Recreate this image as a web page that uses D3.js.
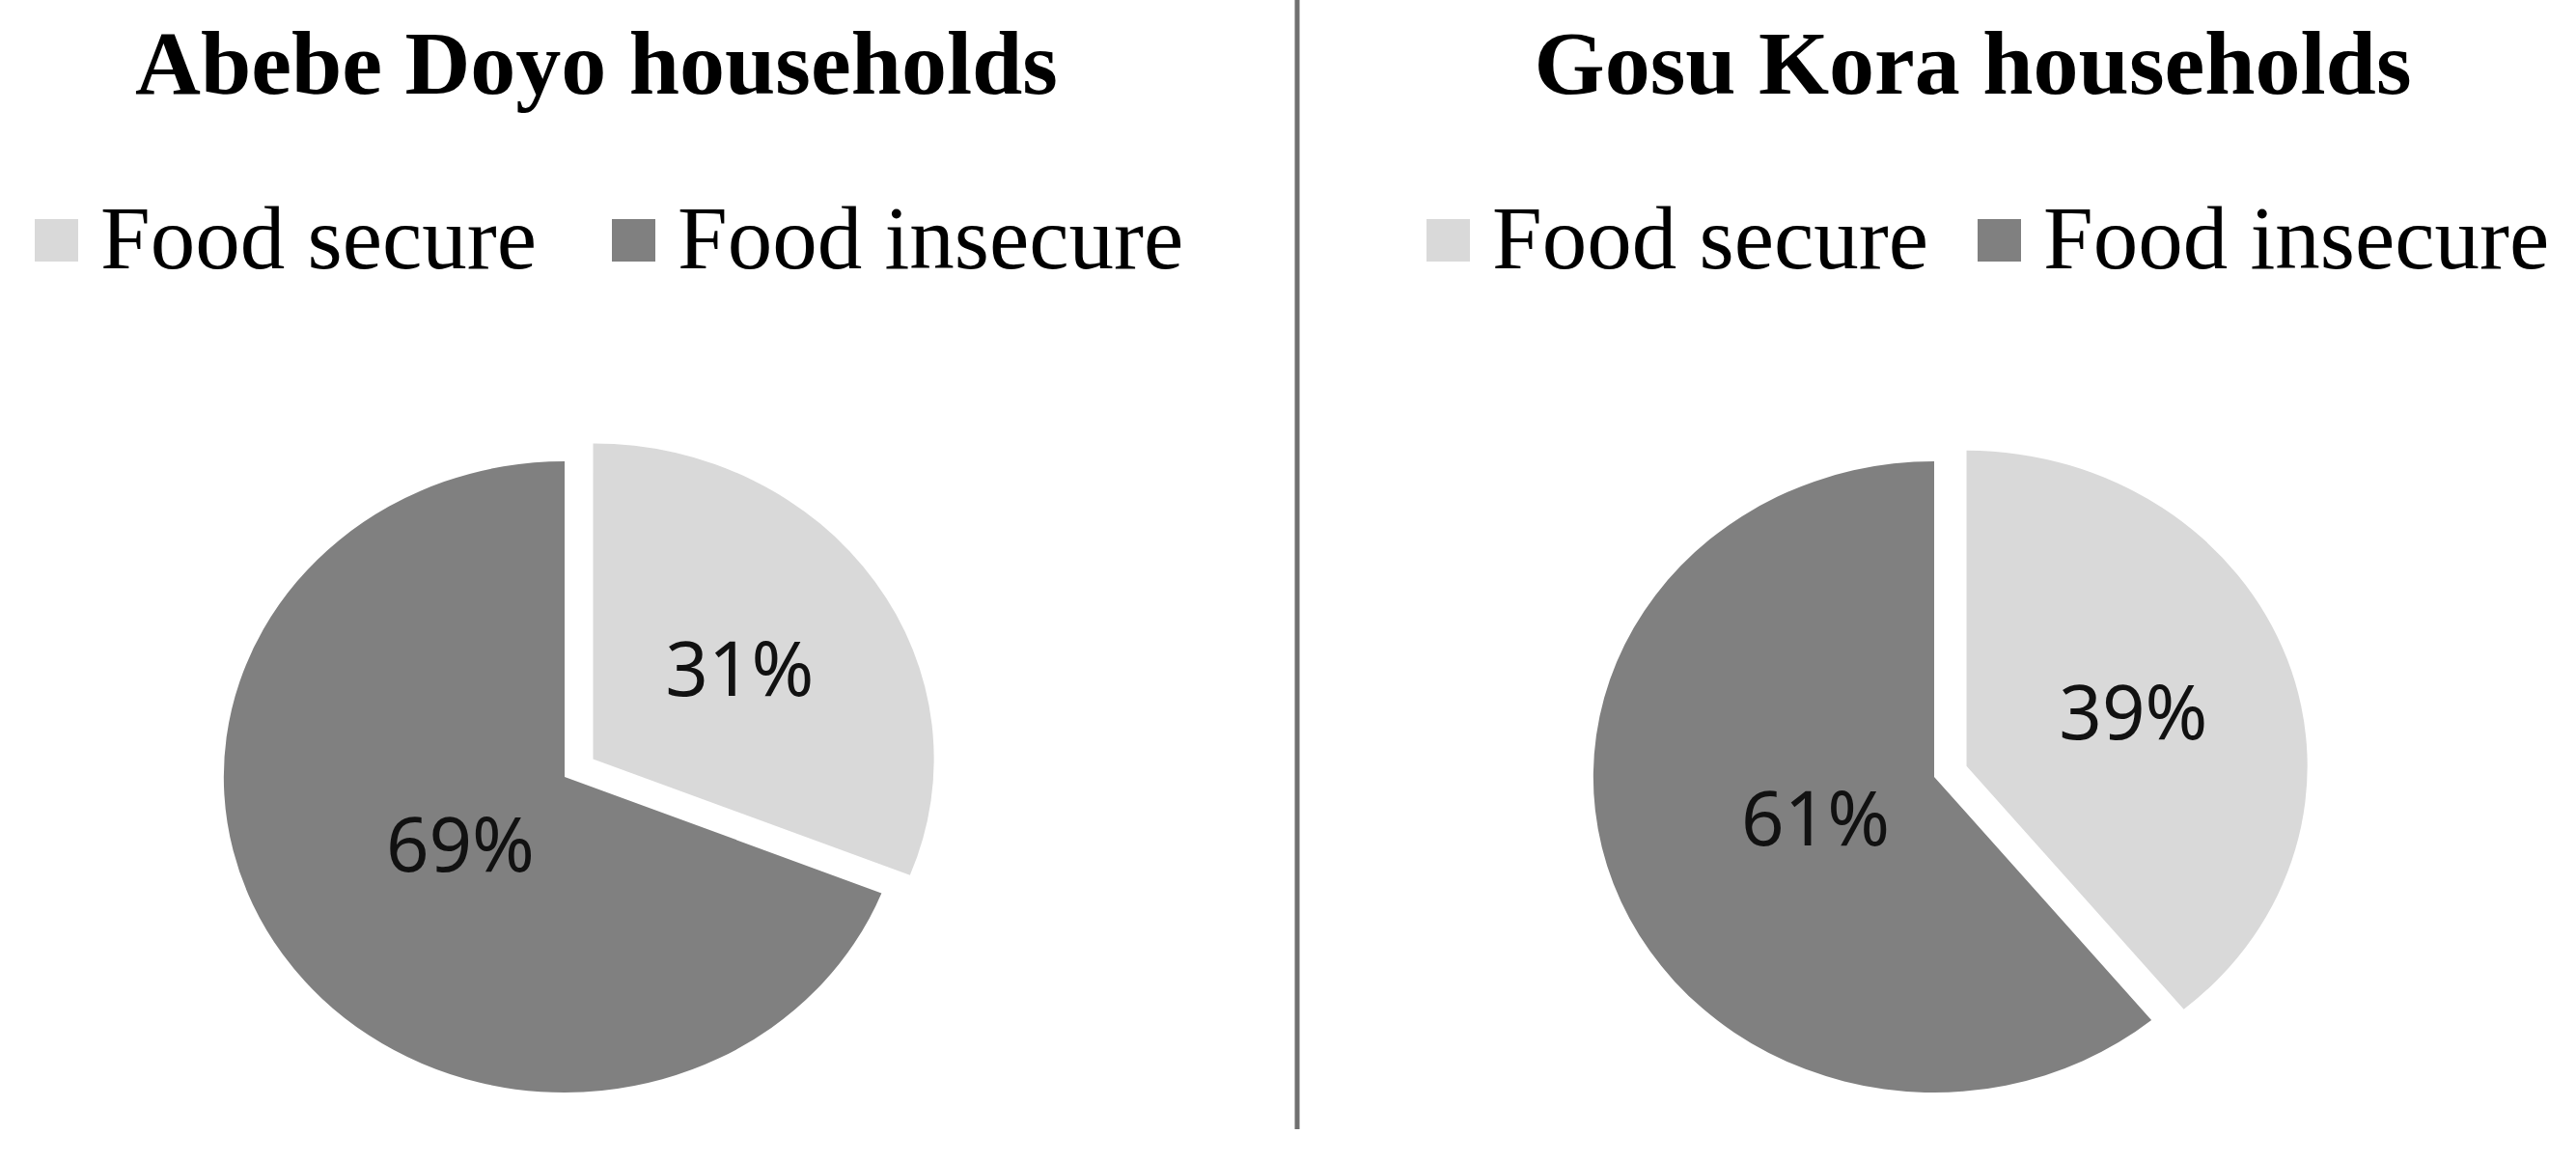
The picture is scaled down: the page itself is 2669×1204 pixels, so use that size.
<!DOCTYPE html>
<html>
<head>
<meta charset="utf-8">
<script src="https://cdn.jsdelivr.net/npm/d3@7"></script>
<style>
  body { margin: 0; background: #fff; }
</style>
</head>
<body>
<script>
const width = 2669;
const height = 1204;

// data
const categories = ['Food secure', 'Food insecure'];
const titles = ['Abebe Doyo households', 'Gosu Kora households'];
const abebeDoyo = [31, 69];
const gosuKora = [39, 61];

// layout / style
const colors = ['#d9d9d9', '#808080'];
const radius = 327;
const stretch = 1.08;          // source pies are slightly wider than tall
const explode = 33;            // pull-out of the first slice
const labelFactor = [0.52, 0.37];
const panels = [
  { title: titles[0], values: abebeDoyo, cx: 585, cy: 805, titleX: 618, legendX: [36, 634] },
  { title: titles[1], values: gosuKora, cx: 2004, cy: 805, titleX: 2044, legendX: [1478, 2049] },
];

const svg = d3.select('body')
  .append('svg')
    .attr('width', width)
    .attr('height', height)
    .attr('viewBox', [0, 0, width, height].join(' '));

svg.append('line')
  .attr('x1', 1344).attr('x2', 1344)
  .attr('y1', 0).attr('y2', 1170)
  .attr('stroke', '#707070')
  .attr('stroke-width', 5);

const pie = d3.pie().sort(null).value((d) => d);
const arc = d3.arc().innerRadius(0).outerRadius(radius);

const mid = (d) => (d.startAngle + d.endAngle) / 2;

panels.forEach((p) => {
  const g = svg.append('g');

  g.append('text')
    .attr('x', p.titleX)
    .attr('y', 97)
    .attr('text-anchor', 'middle')
    .attr('font-family', '"Liberation Serif", "Times New Roman", serif')
    .attr('font-weight', 'bold')
    .attr('font-size', 94)
    .attr('fill', '#000')
    .text(p.title);

  const legend = g.selectAll('.legend')
    .data(categories)
    .enter()
      .append('g')
      .attr('transform', (d, i) => `translate(${p.legendX[i]}, 0)`);

  legend.append('rect')
    .attr('x', 0)
    .attr('y', 227)
    .attr('width', 45)
    .attr('height', 44)
    .attr('fill', (d, i) => colors[i]);

  legend.append('text')
    .attr('x', 68)
    .attr('y', 278)
    .attr('font-family', '"Liberation Serif", "Times New Roman", serif')
    .attr('font-size', 93)
    .attr('fill', '#000')
    .text((d) => d);

  const slices = pie(p.values);
  const shift = (d, i) => (i === 0 ? explode : 0);

  const pieG = g.append('g')
    .attr('transform', `translate(${p.cx}, ${p.cy}) scale(${stretch}, 1)`);

  pieG.selectAll('path')
    .data(slices)
    .enter()
      .append('path')
      .attr('fill', (d, i) => colors[i])
      .attr('transform', (d, i) => `translate(${Math.sin(mid(d)) * shift(d, i)}, ${-Math.cos(mid(d)) * shift(d, i)})`)
      .attr('d', arc);

  g.selectAll('.label')
    .data(slices)
    .enter()
      .append('text')
      .attr('class', 'label')
      .attr('text-anchor', 'middle')
      .attr('dominant-baseline', 'central')
      .attr('font-family', '"Noto Sans", "Open Sans", sans-serif')
      .attr('font-size', 78)
      .attr('fill', '#111')
      .attr('x', (d, i) => p.cx + stretch * Math.sin(mid(d)) * (shift(d, i) + radius * labelFactor[i]))
      .attr('y', (d, i) => p.cy - Math.cos(mid(d)) * (shift(d, i) + radius * labelFactor[i]))
      .text((d) => d.data + '%');
});
</script>
</body>
</html>
